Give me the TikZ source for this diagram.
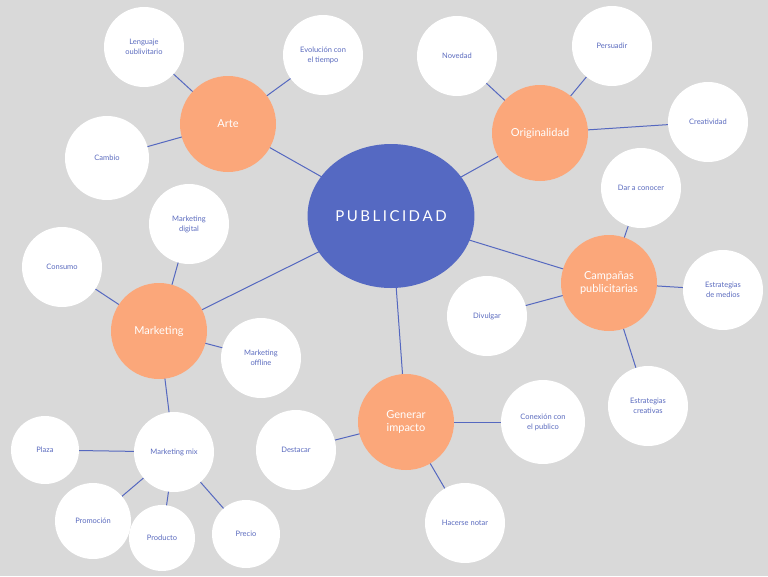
\documentclass[tikz,border=0pt]{standalone}
\usepackage{fontspec}
\setmainfont{Lato}
\usetikzlibrary{backgrounds,shapes.geometric}
\definecolor{bg}{HTML}{D9D9D9}
\definecolor{ln}{HTML}{5568C0}
\definecolor{tx}{HTML}{5B6BBF}
\definecolor{or}{HTML}{FBA77A}
\definecolor{ce}{HTML}{5569C2}
\begin{document}
\begin{tikzpicture}[x=1pt,y=-1pt,
 wh/.style={circle,fill=white,minimum size=80pt,inner sep=0pt,align=center,text=tx,font=\fontsize{7.5}{10}\selectfont},
 orn/.style={circle,fill=or,minimum size=96pt,inner sep=0pt,align=center,text=white,font=\fontsize{11}{13}\selectfont},
 ed/.style={draw=ln,line width=1pt}]
\node[ellipse,fill=ce,minimum width=156pt,minimum height=144pt,text=white,font=\fontsize{15}{18}\selectfont] (c) at (391,216) {P\,U\,B\,L\,I\,C\,I\,D\,A\,D};
\node[orn] (arte) at (228,124) {Arte};
\node[orn] (ori) at (540,133) {Originalidad};
\node[orn] (cam) at (609,283) {Campañas\\publicitarias};
\node[orn] (mk) at (159,331) {Marketing};
\node[orn] (gi) at (406,422) {Generar\\impacto};
\node[wh] (len) at (144,47) {Lenguaje\\oublivitario};
\node[wh] (evo) at (323,55) {Evolución con\\el tiempo};
\node[wh,minimum size=84pt] (cambio) at (107,158) {Cambio};
\node[wh] (nov) at (457,56) {Novedad};
\node[wh] (per) at (612,46) {Persuadir};
\node[wh] (cre) at (708,122) {Creatividad};
\node[wh] (dar) at (641,188) {Dar a conocer};
\node[wh] (med) at (723,290) {Estrategias\\de medios};
\node[wh] (div) at (487,316) {Divulgar};
\node[wh] (ecr) at (648,406) {Estrategias\\creativas};
\node[wh] (mdig) at (189,224) {Marketing\\digital};
\node[wh] (cons) at (62,267) {Consumo};
\node[wh] (moff) at (261,358) {Marketing\\offline};
\node[wh] (mmix) at (174,452) {Marketing mix};
\node[wh,minimum size=68pt] (plaza) at (45,450) {Plaza};
\node[wh,minimum size=76pt] (pro) at (93,521) {Promoción};
\node[wh,minimum size=66pt] (prod) at (162,538) {Producto};
\node[wh,minimum size=68pt] (pre) at (246,534) {Precio};
\node[wh] (des) at (296,450) {Destacar};
\node[wh,minimum size=84pt] (con) at (543,422) {Conexión con\\el publico};
\node[wh] (hac) at (465,523) {Hacerse notar};
\begin{pgfonlayer}{background}
\fill[bg] (0,0) rectangle (768,576);
\foreach \a/\b in {c/arte,c/ori,c/cam,c/mk,c/gi,arte/len,arte/evo,arte/cambio,ori/nov,ori/per,ori/cre,cam/dar,cam/med,cam/div,cam/ecr,mk/mdig,mk/cons,mk/moff,mk/mmix,mmix/plaza,mmix/pro,mmix/prod,mmix/pre,gi/des,gi/con,gi/hac}
  \draw[ed] (\a.center) -- (\b.center);
\end{pgfonlayer}
\end{tikzpicture}
\end{document}
